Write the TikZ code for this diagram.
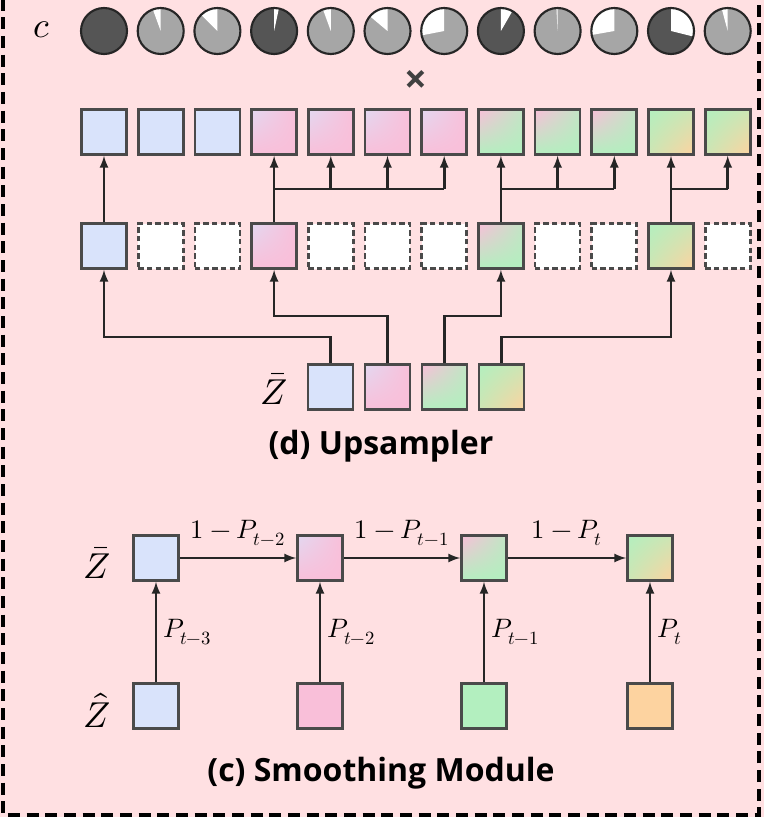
\documentclass[tikz,border=0pt]{standalone}
\usepackage{fontspec}
\usepackage{unicode-math}
\setmainfont{Open Sans}
\setmathfont{Latin Modern Math}
\usetikzlibrary{positioning,shapes,arrows,calc,shadings}

\definecolor{bgpink}{HTML}{FFE0E2}
\definecolor{cblue}{HTML}{D9E3FB}
\definecolor{cpink}{HTML}{F9BFD9}
\definecolor{cgreen}{HTML}{B3EFBF}
\definecolor{corange}{HTML}{FDD3A0}
\definecolor{cdark}{HTML}{555555}
\definecolor{cgray}{HTML}{A6A6A6}
\definecolor{cline}{HTML}{4A4A4A}

\begin{document}
\begin{tikzpicture}[
  x=0.75pt,y=-0.75pt,
  box/.style={draw=cline,line width=2pt,minimum size=33.75pt,inner sep=0pt},
  bluebox/.style={box,fill=cblue},
  pinkbox/.style={box,fill=cpink},
  greenbox/.style={box,fill=cgreen},
  orangebox/.style={box,fill=corange},
  pinkmix/.style={box,shade,upper left=cblue!70!cpink,upper right=cpink,lower left=cpink,lower right=cpink},
  greenmix/.style={box,shade,upper left=cpink,upper right=cgreen!80!cpink,lower left=cgreen,lower right=cgreen},
  orangemix/.style={box,shade,upper left=cgreen,upper right=cgreen!65!corange,lower left=cgreen!65!corange,lower right=corange},
  emptybox/.style={box,dash pattern=on 4pt off 2.5pt,fill=white},
  arr/.style={-latex,draw=black!85,line width=2pt},
  lbl/.style={font=\fontsize{20}{24}\selectfont},
  biglbl/.style={font=\fontsize{27}{30}\selectfont},
  title/.style={font=\fontsize{24}{28}\selectfont\bfseries}
]
\useasboundingbox (0,0) rectangle (764,817);
\fill[bgpink] (0,0) rectangle (764,817);
\draw[line width=2.6pt,dash pattern=on 9pt off 5pt] (3,-20) rectangle (759,815);

% confidence pies
\node[biglbl] (c) at (42,30) {$c$};
\foreach \i/\col/\e in {2/cgray/110,3/cgray/135,4/cdark/78,5/cgray/110,6/cgray/140,
                        7/cgray/191,8/cdark/60,9/cgray/93,10/cgray/190,11/cdark/-14,12/cgray/105}{
  \coordinate (p\i) at ({104+56.7*(\i-1)},31);
  \fill[\col] (p\i) circle (23);
  \fill[white] (p\i) -- ++(-90:23) arc[start angle=-90,end angle=-\e,radius=23] -- cycle;
  \draw[black!85,line width=1.6pt] (p\i) circle (23);
}
\coordinate (p1) at (104,31);
\draw[fill=cdark,draw=black!85,line width=1.6pt] (p1) circle (23);
\node[font=\fontsize{30}{30}\selectfont\bfseries,text=black!75] (times) at (416,82) {×};

% upsampler: top row
\foreach \i/\s in {1/bluebox,2/bluebox,3/bluebox,4/pinkmix,5/pinkmix,6/pinkmix,7/pinkmix,
                   8/greenmix,9/greenmix,10/greenmix,11/orangemix,12/orangemix}
  \node[\s] (u\i) at ({104+56.7*(\i-1)},132) {};
% middle row
\foreach \i/\s in {1/bluebox,2/emptybox,3/emptybox,4/pinkmix,5/emptybox,6/emptybox,7/emptybox,
                   8/greenmix,9/emptybox,10/emptybox,11/orangemix,12/emptybox}
  \node[\s] (m\i) at ({104+56.7*(\i-1)},246) {};
% bottom row
\node[bluebox] (z1) at (330.5,387) {};
\node[pinkmix] (z2) at (387.5,387) {};
\node[greenmix] (z3) at (444.5,387) {};
\node[orangemix] (z4) at (501.5,387) {};
\node[biglbl] (zbar) at (274,389) {$\bar{Z}$};

\draw[arr] (m1) -- (u1);
\draw[arr] (m4) -- (u4);
\draw[arr] (m8) -- (u8);
\draw[arr] (m11) -- (u11);
\draw[black!85,line width=2pt] (u4 |- 0,189) -- (u7 |- 0,189);
\draw[black!85,line width=2pt] (u8 |- 0,189) -- (u10 |- 0,189);
\draw[black!85,line width=2pt] (u11 |- 0,189) -- (u12 |- 0,189);
\foreach \i in {5,6,7,9,10,12}
  \draw[arr] (u\i |- 0,189) -- (u\i);

\draw[arr] (z1) -- (z1 |- 0,337) -| (m1);
\draw[arr] (z2) -- (z2 |- 0,316) -| (m4);
\draw[arr] (z3) -- (z3 |- 0,316) -| (m8);
\draw[arr] (z4) -- (z4 |- 0,337) -| (m11);

\node[title] (up) at (381,446) {(d) Upsampler};

% smoothing module
\node[bluebox] (s1) at (156,558) {};
\node[pinkmix] (s2) at (320,558) {};
\node[greenmix] (s3) at (484,558) {};
\node[orangemix] (s4) at (650,558) {};
\node[bluebox] (h1) at (156,706) {};
\node[pinkbox] (h2) at (320,706) {};
\node[greenbox] (h3) at (484,706) {};
\node[orangebox] (h4) at (650,706) {};
\node[biglbl] (zb) at (97,563) {$\bar{Z}$};
\node[biglbl] (zh) at (97,710) {$\hat{Z}$};

\draw[arr] (s1) -- node[lbl,above=5pt] {$1-P_{t-2}$} (s2);
\draw[arr] (s2) -- node[lbl,above=5pt] {$1-P_{t-1}$} (s3);
\draw[arr] (s3) -- node[lbl,above=5pt] {$1-P_{t}$} (s4);
\draw[arr] (h1) -- node[lbl,right=1pt] {$P_{t-3}$} (s1);
\draw[arr] (h2) -- node[lbl,right=1pt] {$P_{t-2}$} (s2);
\draw[arr] (h3) -- node[lbl,right=1pt] {$P_{t-1}$} (s3);
\draw[arr] (h4) -- node[lbl,right=1pt] {$P_{t}$} (s4);

\node[title] (sm) at (381,773) {(c) Smoothing Module};
\end{tikzpicture}
\end{document}
